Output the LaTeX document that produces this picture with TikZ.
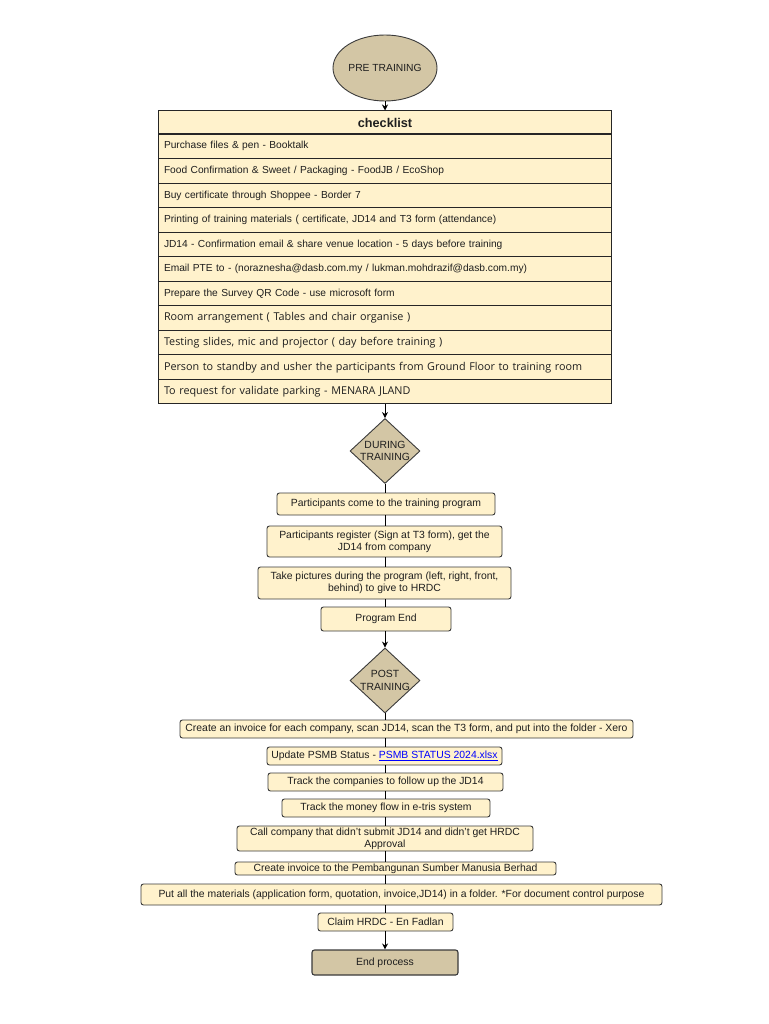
\documentclass[tikz,border=0pt]{standalone}
\usepackage{fontspec}
\setmainfont{Liberation Sans}
\newfontfamily\rowfont{Open Sans}
\usetikzlibrary{shapes.geometric,arrows.meta}

\definecolor{boxfill}{HTML}{FFF2CC}
\definecolor{tanfill}{HTML}{D3C6A5}
\definecolor{edge}{HTML}{3A3A3A}
\definecolor{ink}{HTML}{1E1E1E}

\tikzset{
  stepbox/.style={draw=edge, line width=0.9pt, fill=boxfill, rounded corners=2.5pt,
    inner sep=0pt, align=center, text=ink, font=\fontsize{10.4}{11.8}\selectfont},
  row/.style={draw=black!85, line width=1pt, fill=boxfill, minimum height=24.5pt,
    inner xsep=5.5pt, inner ysep=0pt, text width=442pt, align=left, text=ink,
    font=\fontsize{10.2}{11}\selectfont},
  bigrow/.style={row, font=\rowfont\fontsize{10.8}{12}\selectfont},
  phase/.style={draw=edge, line width=0.9pt, fill=tanfill, diamond, inner sep=-5pt,
    minimum width=70pt, minimum height=65pt, align=center, text=ink,
    font=\fontsize{10.4}{12.3}\selectfont},
  arr/.style={-{Stealth[length=6pt,width=6pt]}, line width=0.9pt},
  link/.style={line width=0.9pt}
}

\begin{document}
\begin{tikzpicture}[x=1pt,y=-1pt]
\useasboundingbox (0,0) rectangle (768,1024);

% pre training
\node[ellipse, draw=edge, line width=0.9pt, fill=tanfill, inner sep=0pt, minimum width=104pt, minimum height=66pt,
  text=ink, font=\fontsize{10.3}{12}\selectfont] (pre) at (385,68) {PRE TRAINING};

% checklist
\node[row, minimum height=23pt, align=center, font=\bfseries\fontsize{12.7}{14}\selectfont] (head) at (385,122.5) {checklist};
\node[row] (r1) at (385,146.3) {Purchase files \& pen - Booktalk};
\node[row] (r2) at (385,170.8) {Food Confirmation \& Sweet / Packaging - FoodJB / EcoShop};
\node[row] (r3) at (385,195.4) {Buy certificate through Shoppee - Border 7};
\node[row] (r4) at (385,219.9) {Printing of training materials ( certificate, JD14 and T3 form (attendance)};
\node[row] (r5) at (385,244.5) {JD14 - Confirmation email \& share venue location - 5 days before training};
\node[row] (r6) at (385,269.0) {Email PTE to - (noraznesha@dasb.com.my / lukman.mohdrazif@dasb.com.my)};
\node[row] (r7) at (385,293.6) {Prepare the Survey QR Code - use microsoft form};
\node[bigrow] (r8) at (385,318.1) {Room arrangement ( Tables and chair organise )};
\node[bigrow] (r9) at (385,342.6) {Testing slides, mic and projector ( day before training )};
\node[bigrow] (r10) at (385,367.2) {Person to standby and usher the participants from Ground Floor to training room};
\node[bigrow] (r11) at (385,391.7) {To request for validate parking - MENARA JLAND};

% during training
\node[phase] (during) at (385,451) {DURING\\TRAINING};
\node[stepbox, minimum width=218pt, minimum height=22pt] (come) at (386,504) {Participants come to the training program};
\node[stepbox, minimum width=235pt, minimum height=31pt] (register) at (384.5,541.5) {Participants register (Sign at T3 form), get the\\JD14 from company};
\node[stepbox, minimum width=253pt, minimum height=32pt] (pictures) at (384.5,583) {Take pictures during the program (left, right, front,\\behind) to give to HRDC};
\node[stepbox, minimum width=130pt, minimum height=24pt] (progend) at (386,619) {Program End};

% post training
\node[phase] (post) at (385,680.5) {POST\\TRAINING};
\node[stepbox, minimum width=453pt, minimum height=18pt] (invoice) at (406.5,729) {Create an invoice for each company, scan JD14, scan the T3 form, and put into the folder - Xero};
\node[stepbox, minimum width=235pt, minimum height=18pt] (psmb) at (384.5,756) {Update PSMB Status - \textcolor{blue}{\underline{PSMB STATUS 2024.xlsx}}};
\node[stepbox, minimum width=235pt, minimum height=18pt] (track) at (385.5,782) {Track the companies to follow up the JD14};
\node[stepbox, minimum width=208pt, minimum height=18pt] (money) at (386,808) {Track the money flow in e-tris system};
\node[stepbox, minimum width=296pt, minimum height=25pt] (call) at (385,838.5) {Call company that didn't submit JD14 and didn't get HRDC\\Approval};
\node[stepbox, minimum width=321pt, minimum height=13pt] (psm) at (395.5,868.5) {Create invoice to the Pembangunan Sumber Manusia Berhad};
\node[stepbox, minimum width=521pt, minimum height=21pt] (folder) at (401.5,894.5) {Put all the materials (application form, quotation, invoice,JD14) in a folder. *For document control purpose};
\node[stepbox, minimum width=135pt, minimum height=18pt] (claim) at (385.5,922) {Claim HRDC - En Fadlan};
\node[stepbox, fill=tanfill, line width=1.1pt, minimum width=146pt, minimum height=25pt] (endp) at (385,962.5) {End process};

% connectors
\draw[arr] (pre) -- (head);
\draw[arr] (r11) -- (during);
\draw[link] (during) -- (during |- come.north);
\draw[link] (come.south -| during) -- (during |- register.north);
\draw[link] (register.south -| during) -- (during |- pictures.north);
\draw[link] (pictures.south -| during) -- (during |- progend.north);
\draw[arr] (progend.south -| during) -- (post);
\draw[link] (post) -- (post |- invoice.north);
\draw[link] (invoice.south -| post) -- (post |- psmb.north);
\draw[link] (psmb.south -| post) -- (post |- track.north);
\draw[link] (track.south -| post) -- (post |- money.north);
\draw[link] (money.south -| post) -- (post |- call.north);
\draw[link] (call.south -| post) -- (post |- psm.north);
\draw[link] (psm.south -| post) -- (post |- folder.north);
\draw[link] (folder.south -| post) -- (post |- claim.north);
\draw[arr] (claim.south -| post) -- (post |- endp.north);

\end{tikzpicture}
\end{document}
